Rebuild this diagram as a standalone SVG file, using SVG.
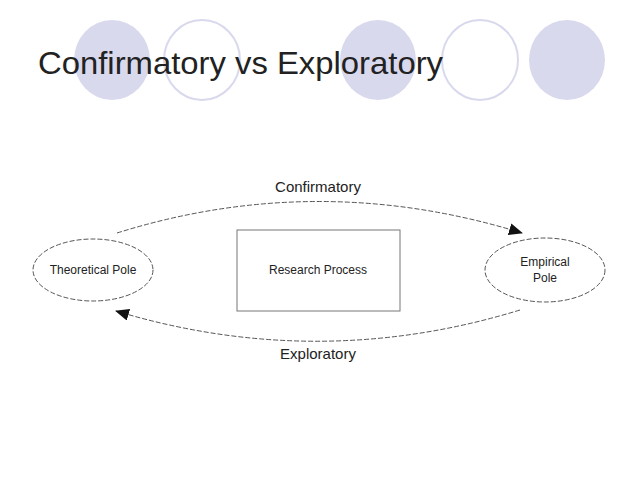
<svg xmlns="http://www.w3.org/2000/svg" width="638" height="478" viewBox="0 0 638 478">
<style>
.f{fill:#d9d9ee;stroke:none}
.o{fill:none;stroke:#d9d9ee;stroke-width:2}
.d{fill:none;stroke:#555;stroke-width:1;stroke-dasharray:5,2}
text{font-family:"Liberation Sans",Arial,sans-serif;fill:#222}
</style>
<defs><marker id="a" markerWidth="14" markerHeight="12" refX="13" refY="6" orient="auto" markerUnits="userSpaceOnUse"><path d="M0,0L14,6L0,12z" fill="#111"/></marker></defs>
<rect width="638" height="478" fill="#fff"/>
<g id="deco">
<ellipse class="f" cx="112" cy="60" rx="38" ry="40"/>
<ellipse class="o" cx="202" cy="60" rx="38" ry="40"/>
<ellipse class="f" cx="378" cy="60" rx="38" ry="40"/>
<ellipse class="o" cx="480" cy="60" rx="38" ry="40"/>
<ellipse class="f" cx="567" cy="60" rx="38" ry="40"/>
</g>
<text x="38" y="74" font-size="32" fill="#000" textLength="405" lengthAdjust="spacingAndGlyphs">Confirmatory vs Exploratory</text>
<g id="connectors">
<path class="d" d="M117,233 Q318,170 522,233" marker-end="url(#a)"/>
<path class="d" d="M520,310 Q318,372 116,311" marker-end="url(#a)"/>
</g>
<text x="318" y="192" font-size="15" text-anchor="middle">Confirmatory</text>
<text x="318" y="359" font-size="15" text-anchor="middle">Exploratory</text>
<g id="theoretical"><ellipse class="d" cx="93" cy="270" rx="60" ry="31"/><text x="93" y="274" font-size="12" text-anchor="middle">Theoretical Pole</text></g>
<g id="research"><rect x="237" y="230" width="163" height="81" fill="#fff" stroke="#777"/><text x="318" y="274" font-size="12" text-anchor="middle">Research Process</text></g>
<g id="empirical"><ellipse class="d" cx="545" cy="270" rx="60" ry="32"/><text x="545" y="266" font-size="12" text-anchor="middle">Empirical</text><text x="545" y="282" font-size="12" text-anchor="middle">Pole</text></g>
</svg>
